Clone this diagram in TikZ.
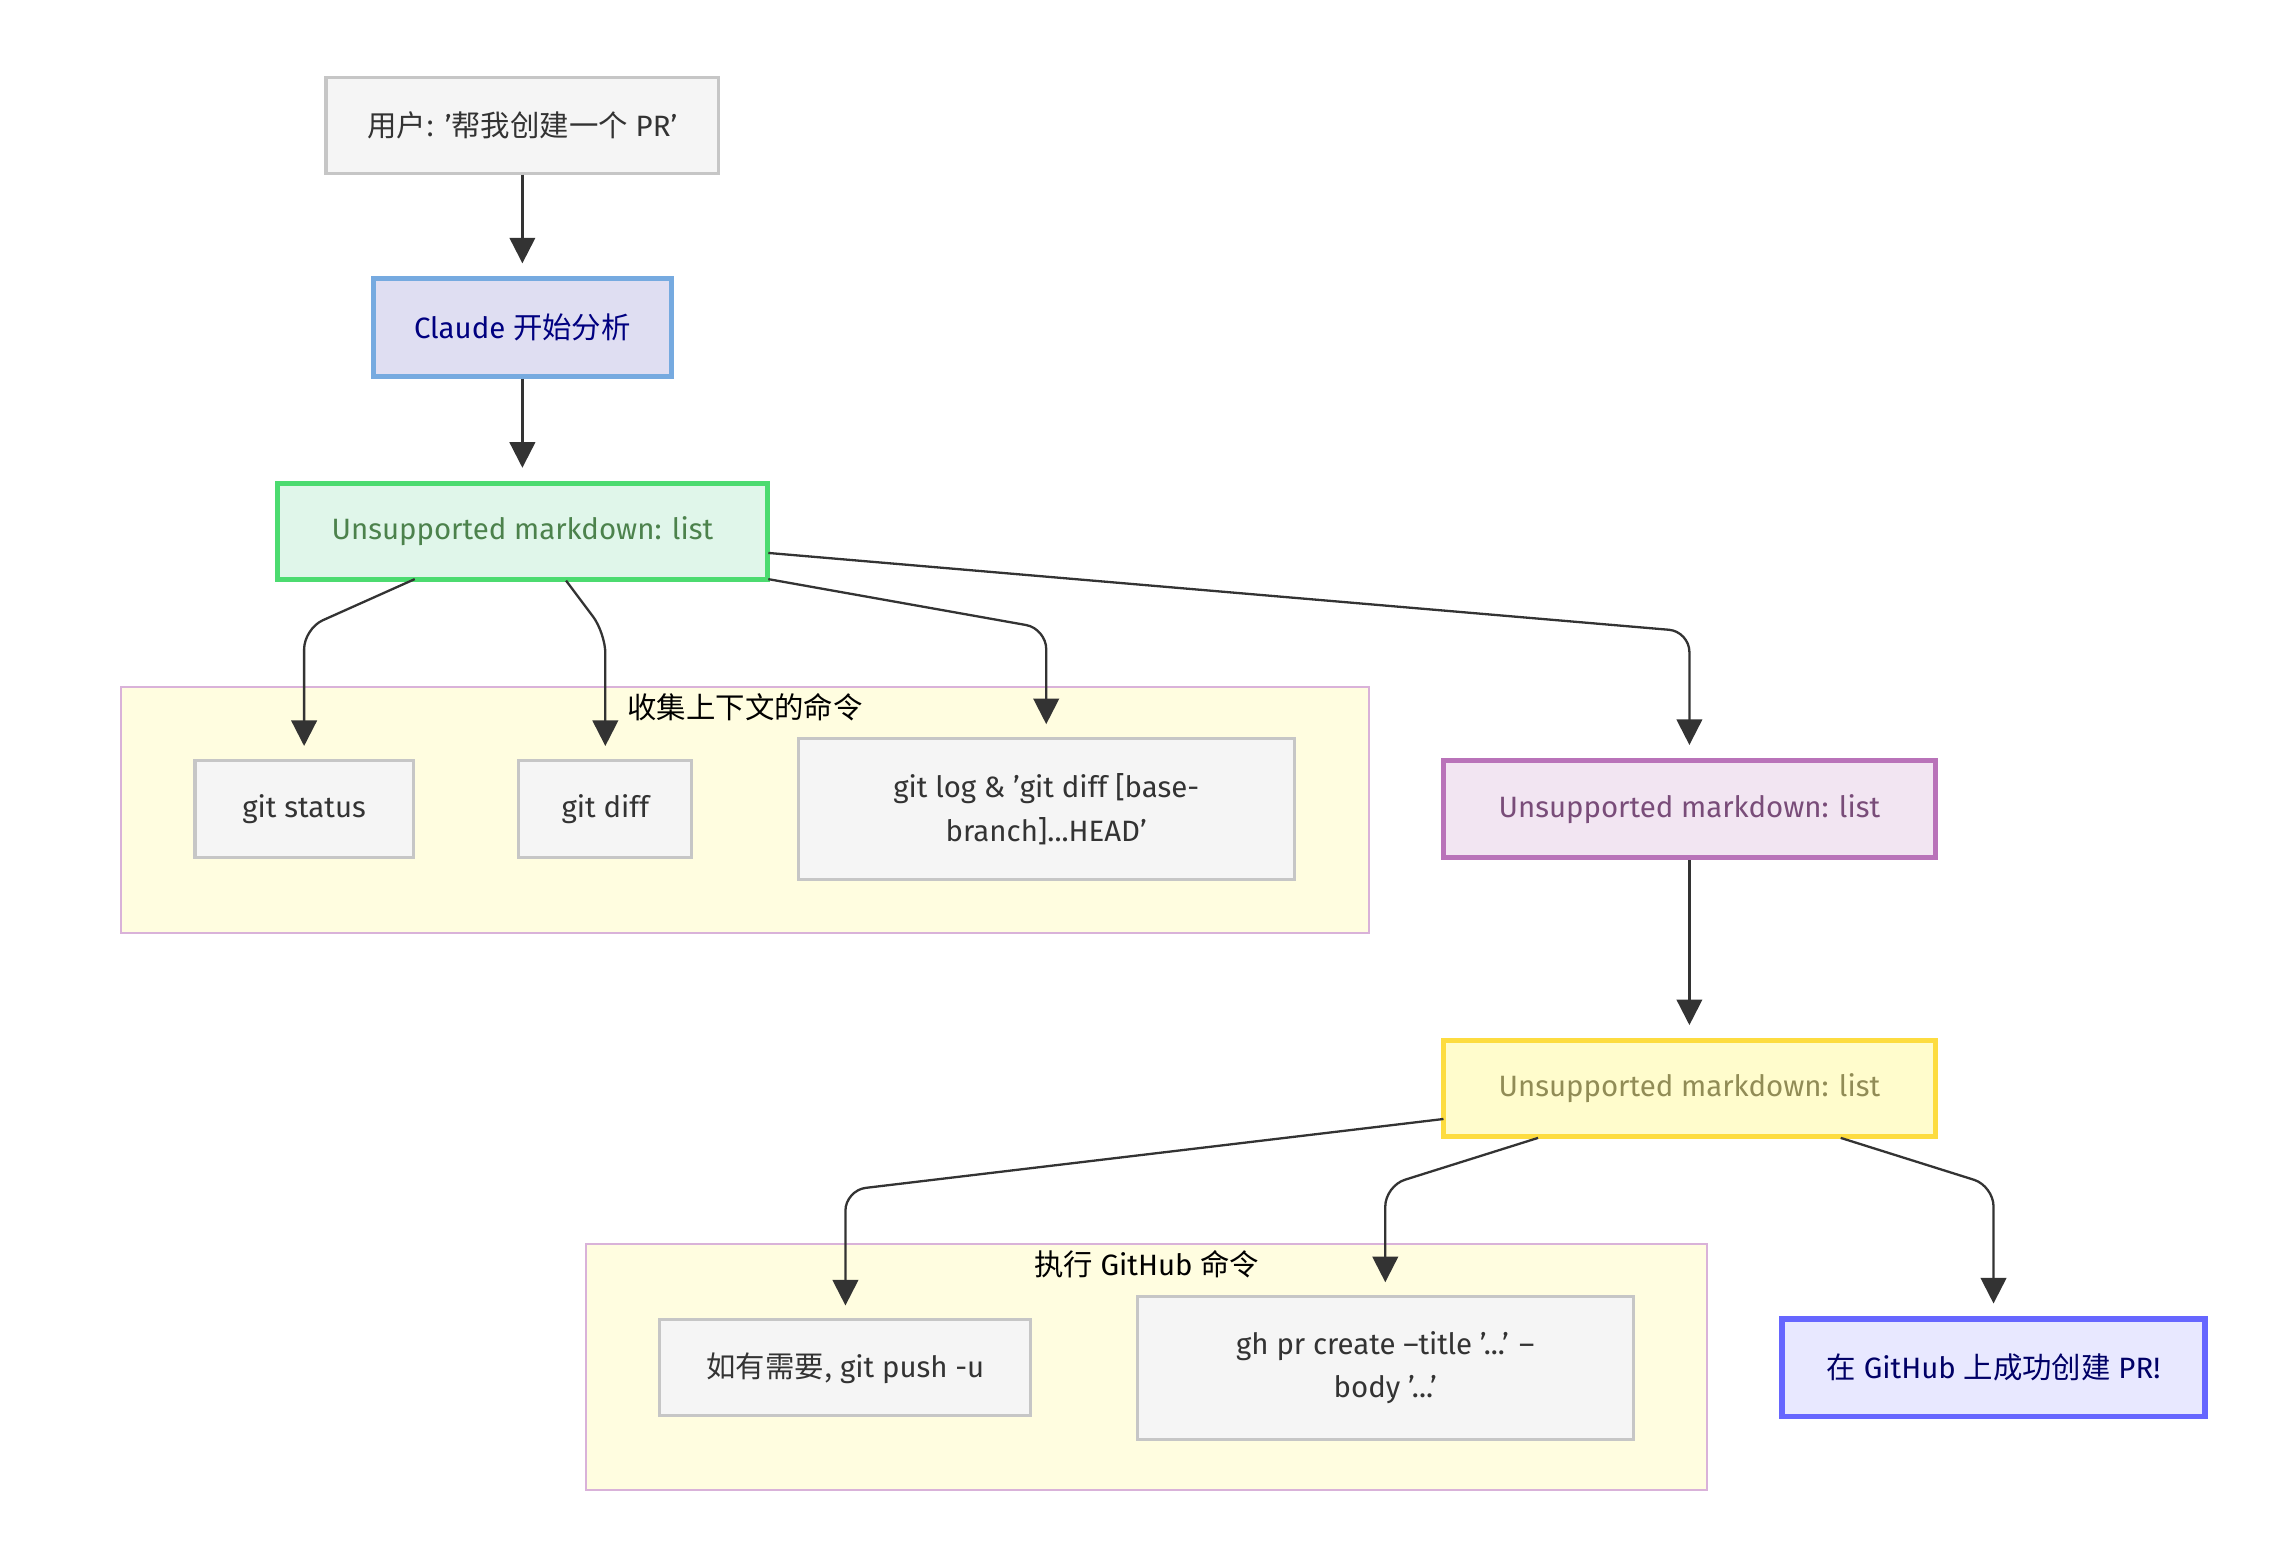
\documentclass[tikz,border=0pt]{standalone}
\usepackage{fontspec}
\setmainfont{Fira Sans}
\newfontfamily\cjk{Noto Sans CJK SC}
\usetikzlibrary{arrows.meta}
\definecolor{edgec}{HTML}{333333}
\tikzset{
  box/.style={rectangle, draw=#1, line width=1.2pt, align=center, inner sep=0pt, font=\fontsize{11.5}{17}\selectfont},
  plain/.style={box=gray!45, fill=gray!8, text=black!80},
  cluster/.style={draw=violet!30, fill=yellow!12, line width=0.8pt},
  arrow/.style={draw=edgec, line width=0.9pt, rounded corners=8pt, -{Triangle[length=10pt,width=10pt]}, shorten >=5pt},
}
\begin{document}
\begin{tikzpicture}[x=0.02cm,y=-0.02cm]
\useasboundingbox (0,0) rectangle (1560,1074);
% clusters
\draw[cluster] (83,472) rectangle (941,641);
\node[font=\cjk\fontsize{11.5}{14}\selectfont] (c1) at (512,486) {收集上下文的命令};
\draw[cluster] (403,855) rectangle (1173,1024);
\node[font=\fontsize{11.5}{14}\selectfont] (c2) at (788,869) {{\cjk 执行} GitHub {\cjk 命令}};
% nodes
\node[plain, minimum width=5.4cm, minimum height=1.32cm] (user) at (359,86) {{\cjk 用户:} '{\cjk 帮我创建一个} PR'};
\node[box=cyan!60!blue!55, fill=cyan!20!blue!12, text=blue!50!black, line width=2pt, minimum width=4.1cm, minimum height=1.34cm] (claude) at (359,225) {Claude {\cjk 开始分析}};
\node[box=green!60!teal!70, fill=green!40!teal!12, text=green!30!black!70, line width=2pt, minimum width=6.74cm, minimum height=1.32cm] (l1) at (359,365) {Unsupported markdown: list};
\node[plain, minimum width=3cm, minimum height=1.34cm] (gs) at (209,556) {git status};
\node[plain, minimum width=2.38cm, minimum height=1.34cm] (gd) at (416,556) {git diff};
\node[plain, minimum width=6.82cm, minimum height=1.94cm] (gl) at (719,556) {git log \& 'git diff [base-\\branch]...HEAD'};
\node[box=violet!55, fill=violet!10, text=violet!50!black!70, line width=2pt, minimum width=6.76cm, minimum height=1.34cm] (l2) at (1161,556) {Unsupported markdown: list};
\node[box=yellow!70!orange!75, fill=yellow!20, text=yellow!45!black!90, line width=2pt, minimum width=6.76cm, minimum height=1.32cm] (l3) at (1161,748) {Unsupported markdown: list};
\node[plain, minimum width=5.1cm, minimum height=1.32cm] (push) at (581,940) {{\cjk 如有需要,} git push -u};
\node[plain, minimum width=6.82cm, minimum height=1.96cm] (gh) at (952,940) {gh pr create --title '...' --\\body '...'};
\node[box=blue!60, fill=blue!9, text=blue!40!black, line width=2.2pt, minimum width=5.82cm, minimum height=1.34cm] (ok) at (1370,940) {{\cjk 在} GitHub {\cjk 上成功创建} PR!};
% bend points
\coordinate (a1) at (209,432); \coordinate (a2) at (416,435);
\coordinate (a3) at (719,432); \coordinate (a4) at (1161,434);
\coordinate (b1) at (581,818); \coordinate (b2) at (952,815); \coordinate (b3) at (1370,815);
% edges
\draw[arrow] (user) -- (claude);
\draw[arrow] (claude) -- (l1);
\draw[arrow] (285,398) -- (a1) -- (gs);
\draw[arrow] (389,399) -- (a2) -- (gd);
\draw[arrow] (528,398) -- (a3) -- (gl);
\draw[arrow] (528,380) -- (a4) -- (l2);
\draw[arrow] (l2) -- (l3);
\draw[arrow] (992,769) -- (b1) -- (push);
\draw[arrow] (1057,782) -- (b2) -- (gh);
\draw[arrow] (1265,782) -- (b3) -- (ok);
\end{tikzpicture}
\end{document}
